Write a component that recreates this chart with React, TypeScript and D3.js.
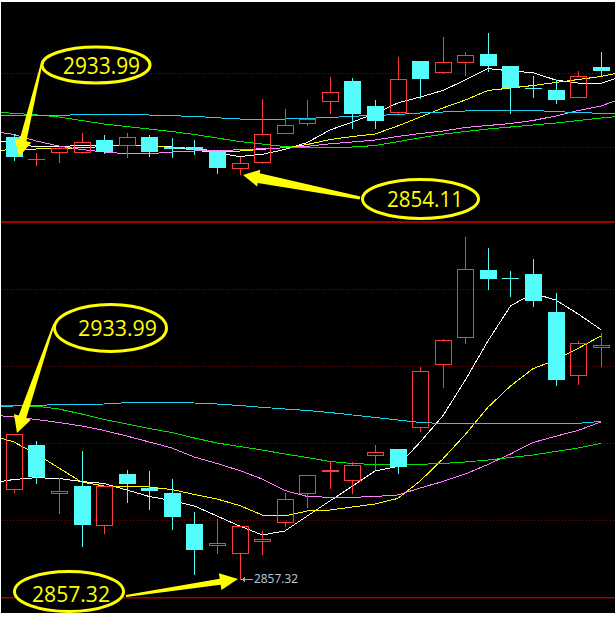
import React from "react";
import * as d3 from "d3";

// ---------- DATA ----------
const candleIndex = d3.range(27);

// Upper panel candles
const topOpen = [2928.11, 2884.11, 2898.11, 2898.11, 2922.11, 2912.11, 2928.11, 2908.11, 2908.11, 2900.11, 2866.11, 2878.11, 2936.11, 2956.11, 3000.11, 3040.11, 2990.11, 2978.11, 3080.11, 3058.11, 3078.11, 3094.11, 3070.11, 3026.11, 3022.11, 3008.11, 3068.11];
const topClose = [2888.11, 2884.11, 2906.11, 2918.11, 2898.11, 2928.11, 2898.11, 2904.11, 2902.11, 2866.11, 2876.11, 2934.11, 2952.11, 2964.11, 3018.11, 2974.11, 2960.11, 3044.11, 3044.11, 3078.11, 3092.11, 3070.11, 3026.11, 3025.11, 3002.11, 3050.11, 3060.11];
const topHigh = [2933.99, 2896.11, 2910.11, 2936.11, 2932.11, 2936.11, 2932.11, 2926.11, 2922.11, 2902.11, 2888.11, 3004.11, 2984.11, 3002.11, 3048.11, 3046.11, 3002.11, 3088.11, 3080.11, 3128.11, 3098.11, 3136.11, 3070.11, 3050.11, 3042.11, 3060.11, 3098.11];
const topLow = [2882.11, 2872.11, 2878.11, 2896.11, 2896.11, 2888.11, 2890.11, 2888.11, 2894.11, 2856.11, 2854.11, 2876.11, 2936.11, 2952.11, 2976.11, 2946.11, 2946.11, 2976.11, 3006.11, 3056.11, 3052.11, 3060.11, 2976.11, 3008.11, 2996.11, 3008.11, 3050.11];
// Upper panel moving averages (previous bar, 27 bars, next bar)
const topMA5 = [2920.1, 2917.1, 2908.1, 2909.1, 2911.1, 2911.1, 2910.7, 2910.7, 2908.1, 2902.1, 2896.1, 2889.1, 2893.5, 2903.1, 2917.1, 2942.1, 2958.1, 2975.1, 2996.1, 3008.1, 3021.1, 3042.1, 3065.1, 3060.1, 3056.7, 3042.1, 3036.1, 3035.1, 3050.1];
const topMA10 = [2901.1, 2902.7, 2904.1, 2905.1, 2906.7, 2909.1, 2912.1, 2909.7, 2907.5, 2905.1, 2899.5, 2900.1, 2903.5, 2906.7, 2913.1, 2923.1, 2929.1, 2934.1, 2950.1, 2968.1, 2986.1, 3002.1, 3021.1, 3026.1, 3031.1, 3037.1, 3043.1, 3049.1, 3058.1];
const topMA20 = [2940.1, 2933.1, 2920.1, 2910.1, 2903.1, 2898.1, 2894.5, 2894.5, 2898.1, 2900.1, 2901.1, 2902.5, 2904.7, 2906.5, 2909.5, 2914.5, 2918.1, 2922.1, 2929.1, 2935.1, 2940.1, 2947.1, 2951.1, 2955.1, 2961.1, 2970.1, 2981.1, 2990.1, 3006.1];
const topMA30 = [2978.1, 2975.5, 2972.5, 2968.1, 2961.1, 2954.1, 2949.1, 2944.1, 2939.1, 2933.1, 2926.1, 2919.1, 2914.1, 2909.1, 2906.1, 2907.1, 2908.1, 2911.1, 2918.7, 2926.5, 2933.7, 2939.1, 2944.1, 2948.1, 2952.1, 2956.1, 2961.1, 2966.1, 2970.1];
const topMA60 = [2970.1, 2970.7, 2971.1, 2971.7, 2972.5, 2973.3, 2973.1, 2972.1, 2970.5, 2969.5, 2966.5, 2964.1, 2963.7, 2964.1, 2965.5, 2967.1, 2969.7, 2971.1, 2973.1, 2976.1, 2978.1, 2980.1, 2981.5, 2982.1, 2981.1, 2979.1, 2976.7, 2975.7, 2975.3];
const topGrid = [3056.11, 2908.11];

// Lower panel candles
const botOpen = [2905.02, 2928.34, 2902.9, 2906.61, 2885.94, 2912.97, 2905.55, 2902.9, 2886.47, 2875.34, 2871.1, 2877.46, 2887.53, 2902.9, 2914.3, 2909.79, 2923.04, 2926.22, 2937.88, 2971.27, 2985.58, 3021.09, 3016.59, 3018.97, 2998.83, 2965.44, 2980.28];
const botClose = [2933.99, 2911.38, 2903.96, 2885.94, 2906.61, 2907.67, 2903.96, 2890.18, 2872.69, 2876.4, 2885.41, 2878.52, 2899.72, 2912.44, 2914.83, 2917.74, 2924.63, 2916.68, 2967.56, 2983.99, 3021.62, 3016.32, 3016.06, 3004.66, 2962.79, 2982.4, 2981.34];
const botHigh = [2933.99, 2930.46, 2910.85, 2925.16, 2906.61, 2915.09, 2914.56, 2910.32, 2892.83, 2889.12, 2885.41, 2882.76, 2902.9, 2912.44, 2919.86, 2919.33, 2928.34, 2926.22, 2969.68, 2984.52, 3038.58, 3032.75, 3020.56, 3026.92, 3008.9, 2983.46, 2987.7];
const botLow = [2903.43, 2908.2, 2892.3, 2874.81, 2881.7, 2898.13, 2894.42, 2883.82, 2859.97, 2871.1, 2857.32, 2870.57, 2885.41, 2895.48, 2905.55, 2902.9, 2915.62, 2913.5, 2935.76, 2959.08, 2982.4, 3011.02, 3007.31, 3002.01, 2960.14, 2960.67, 2970.21];
// Lower panel moving averages (previous bar, 27 bars)
const botMA5 = [2908.2, 2910.06, 2911.01, 2910.59, 2909.0, 2907.94, 2904.49, 2901.05, 2898.93, 2896.01, 2890.71, 2885.41, 2880.64, 2882.76, 2890.71, 2898.66, 2906.61, 2914.56, 2916.95, 2929.93, 2943.71, 2962.79, 2983.46, 3002.01, 3008.74, 3005.19, 2997.77, 2989.56];
const botMA10 = [2933.64, 2929.93, 2923.57, 2916.15, 2908.73, 2906.61, 2906.35, 2906.08, 2904.76, 2902.11, 2899.72, 2896.28, 2891.24, 2890.71, 2893.36, 2893.89, 2895.48, 2897.07, 2899.99, 2909.26, 2920.92, 2933.91, 2948.32, 2959.61, 2968.83, 2973.39, 2979.59, 2986.11];
const botMA20 = [2944.24, 2943.18, 2941.86, 2940.27, 2938.41, 2936.03, 2933.11, 2929.93, 2926.75, 2921.98, 2918.54, 2914.83, 2910.32, 2904.23, 2901.05, 2900.62, 2900.62, 2901.05, 2901.84, 2905.55, 2909.0, 2912.97, 2918.01, 2923.57, 2929.67, 2932.95, 2936.13, 2940.53];
const botMA30 = [2949.28, 2949.12, 2948.9, 2947.42, 2944.77, 2941.86, 2939.47, 2937.09, 2934.97, 2932.05, 2929.4, 2927.55, 2925.69, 2923.57, 2921.72, 2919.6, 2918.54, 2918.01, 2918.01, 2918.11, 2918.54, 2919.33, 2920.39, 2921.72, 2923.04, 2924.9, 2926.75, 2929.14];
const botMA60 = [2948.75, 2949.01, 2949.38, 2949.7, 2949.81, 2950.07, 2950.76, 2950.87, 2950.87, 2950.6, 2950.07, 2949.28, 2948.32, 2947.42, 2946.63, 2945.57, 2944.24, 2942.92, 2941.59, 2940.27, 2939.74, 2939.74, 2939.84, 2939.84, 2939.84, 2939.84, 2939.84, 2940.8];
const botGrid = [3011.02, 2970.21, 2929.4, 2888.59];

const calloutLabels = ["2933.99", "2854.11", "2933.99", "2857.32"];
const lowMarkLabel = "2857.32";

// ---------- STYLE ----------
const W = 615;
const H = 617;
const RED = "#ff3c3c";
const CYAN = "#54fcfc";
const MA_COLORS = ["#ffffff", "#ffff00", "#ff80ff", "#00e600", "#18d0f0"];
const GRID = "#8c0000";
const YEL = "#ffff00";

const x = d3.scaleLinear().domain([0, 26]).range([13.8, 600.8]);
const yTop = d3.scaleLinear().domain([2854.11, 2933.99]).range([174, 134.06]);
const yBot = d3.scaleLinear().domain([2857.32, 2933.99]).range([579, 434.34]);

type Scale = d3.ScaleLinear<number, number>;

function Candles({ open, close, high, low, y }: { open: number[]; close: number[]; high: number[]; low: number[]; y: Scale }) {
  return (
    <g shapeRendering="crispEdges">
      {candleIndex.map((i) => {
        const cx = Math.round(x(i));
        const o = Math.round(y(open[i]));
        const c = Math.round(y(close[i]));
        const h = Math.round(y(high[i]));
        const l = Math.round(y(low[i]));
        const up = close[i] >= open[i];
        const top = Math.min(o, c);
        const bot = Math.max(o, c);
        if (up) {
          return (
            <g key={i} stroke={RED} fill="none" strokeWidth={1}>
              {h < top && <line x1={cx + 0.5} x2={cx + 0.5} y1={h} y2={top} />}
              {l > bot && <line x1={cx + 0.5} x2={cx + 0.5} y1={bot + 1} y2={l + 1} />}
              {bot - top >= 1 ? (
                <rect x={cx - 8 + 0.5} y={top + 0.5} width={16} height={bot - top} />
              ) : (
                <line x1={cx - 8} x2={cx + 9} y1={top + 0.5} y2={top + 0.5} />
              )}
            </g>
          );
        }
        return (
          <g key={i}>
            <line x1={cx + 0.5} x2={cx + 0.5} y1={h} y2={l + 1} stroke={CYAN} strokeWidth={1} />
            <rect x={cx - 8} y={top} width={17} height={Math.max(bot - top, 1)} fill={CYAN} />
          </g>
        );
      })}
    </g>
  );
}

function MALines({ series, y }: { series: number[][]; y: Scale }) {
  return (
    <g fill="none" strokeWidth={1} shapeRendering="crispEdges">
      {series.map((s, k) => {
        const line = d3
          .line<number>()
          .x((_, j) => x(j - 1))
          .y((v) => y(v));
        return <path key={k} d={line(s) || ""} stroke={MA_COLORS[k]} />;
      })}
    </g>
  );
}

function wedge(sx: number, sy: number, tx: number, ty: number, startW: number, shaftW: number, headW: number, headLen: number) {
  const dx = tx - sx;
  const dy = ty - sy;
  const len = Math.hypot(dx, dy);
  const ux = dx / len;
  const uy = dy / len;
  const nx = -uy;
  const ny = ux;
  const bx = tx - ux * headLen;
  const by = ty - uy * headLen;
  const pts: [number, number][] = [
    [sx + (nx * startW) / 2, sy + (ny * startW) / 2],
    [bx + (nx * shaftW) / 2, by + (ny * shaftW) / 2],
    [bx + (nx * headW) / 2, by + (ny * headW) / 2],
    [tx, ty],
    [bx - (nx * headW) / 2, by - (ny * headW) / 2],
    [bx - (nx * shaftW) / 2, by - (ny * shaftW) / 2],
    [sx - (nx * startW) / 2, sy - (ny * startW) / 2],
  ];
  return pts.map((p) => p.join(",")).join(" ");
}

function Callout({ cx, cy, rx, ry, label, tx, ty, tw, fs }: { cx: number; cy: number; rx: number; ry: number; label: string; tx: number; ty: number; tw: number; fs: number }) {
  return (
    <g>
      <ellipse cx={cx} cy={cy} rx={rx} ry={ry} fill="#000" stroke={YEL} strokeWidth={3} />
      <text x={tx} y={ty} fill={YEL} fontSize={fs} fontFamily="'Open Sans', 'Noto Sans', sans-serif" textLength={tw} lengthAdjust="spacingAndGlyphs">
        {label}
      </text>
    </g>
  );
}

export default function App() {
  const topSeries = [topMA5, topMA10, topMA20, topMA30, topMA60];
  const botSeries = [botMA5, botMA10, botMA20, botMA30, botMA60];
  const lowX = Math.round(x(10));
  const lowY = Math.round(yBot(d3.min(botLow) as number));
  return (
    <svg width={W} height={H} style={{ position: "fixed", left: 0, top: 0, display: "block" }}>
      <defs>
        <clipPath id="clipTop">
          <rect x={1} y={2} width={614} height={219} />
        </clipPath>
        <clipPath id="clipBot">
          <rect x={1} y={224} width={614} height={373} />
        </clipPath>
      </defs>
      <rect x={0} y={0} width={W} height={H} fill="#fff" />
      <rect x={1} y={2} width={614} height={611} fill="#000" />

      {/* grid lines */}
      <g stroke={GRID} strokeWidth={1} strokeDasharray="1 2" shapeRendering="crispEdges">
        {topGrid.map((g, k) => (
          <line key={"t" + k} x1={1} x2={W} y1={Math.round(yTop(g)) + 0.5} y2={Math.round(yTop(g)) + 0.5} />
        ))}
        {botGrid.map((g, k) => (
          <line key={"b" + k} x1={1} x2={W} y1={Math.round(yBot(g)) + 0.5} y2={Math.round(yBot(g)) + 0.5} />
        ))}
      </g>
      <rect x={1} y={221} width={614} height={2} fill="#a00000" />
      <rect x={1} y={597} width={614} height={1.5} fill="#a00000" />

      <g clipPath="url(#clipTop)">
        <MALines series={topSeries} y={yTop} />
        <Candles open={topOpen} close={topClose} high={topHigh} low={topLow} y={yTop} />
      </g>
      <g clipPath="url(#clipBot)">
        <MALines series={botSeries} y={yBot} />
        <Candles open={botOpen} close={botClose} high={botHigh} low={botLow} y={yBot} />
      </g>

      {/* lowest-price marker */}
      <g shapeRendering="crispEdges">
        <line x1={lowX + 2} x2={lowX + 13} y1={lowY + 0.5} y2={lowY + 0.5} stroke="#a8a8a8" strokeWidth={1} />
        <polygon points={`${lowX + 1},${lowY + 0.5} ${lowX + 5},${lowY - 2} ${lowX + 5},${lowY + 3}`} fill="#a8a8a8" />
      </g>
      <text x={lowX + 14} y={lowY + 4} fill="#b4c4dc" fontSize={12} fontFamily="'Noto Sans', sans-serif" textLength={44} lengthAdjust="spacingAndGlyphs">
        {lowMarkLabel}
      </text>

      {/* callout arrows */}
      <g fill={YEL}>
        <polygon points={wedge(42, 62, 19, 157, 1.5, 7, 17, 17)} />
        <polygon points={wedge(360, 198, 243, 175, 3, 10, 17, 16)} />
        <polygon points={wedge(54, 324, 17, 433, 1.5, 8, 18, 17)} />
        <polygon points={wedge(126, 596, 238, 579, 2, 6, 17, 18)} />
      </g>

      <Callout cx={96} cy={65} rx={54} ry={18} label={calloutLabels[0]} tx={63} ty={74} tw={77} fs={23} />
      <Callout cx={420.5} cy={199} rx={58} ry={19.5} label={calloutLabels[1]} tx={387} ty={207} tw={76} fs={22} />
      <Callout cx={110.5} cy={328} rx={56} ry={23.5} label={calloutLabels[2]} tx={78} ty={336} tw={79} fs={22} />
      <Callout cx={69} cy={591.5} rx={54.5} ry={20} label={calloutLabels[3]} tx={32} ty={602} tw={78} fs={22} />
    </svg>
  );
}
